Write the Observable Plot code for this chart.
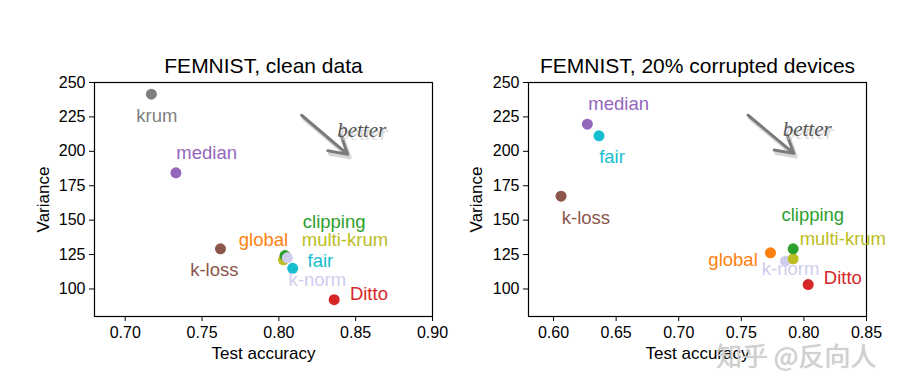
<!DOCTYPE html>
<html>
<head>
<meta charset="utf-8">
<script src="https://cdn.jsdelivr.net/npm/d3@7"></script>
<script src="https://cdn.jsdelivr.net/npm/@observablehq/plot@0.6"></script>
<style>
  html, body { margin: 0; padding: 0; background: #fff; }
  #wrap { position: relative; width: 909px; height: 392px; overflow: hidden; font-family: "Liberation Sans", Arial, sans-serif; }
  #wrap svg { position: absolute; top: 0; }
  #wm { position: absolute; left: 716px; top: 337px; font-family: "Noto Sans CJK SC", sans-serif; font-size: 26px; line-height: 36px; color: rgba(212,212,212,0.85); white-space: nowrap; text-shadow: 0 0 1px rgba(140,140,140,0.6); }
</style>
</head>
<body>
<div id="wrap"><div id="wm">知乎 @反向人</div></div>
<script>
const methods = ["global", "krum", "median", "k-loss", "k-norm", "multi-krum", "clipping", "fair", "Ditto"];
const colors  = ["#ff7f0e", "#7f7f7f", "#9467bd", "#8c564b", "#cfcdee", "#bcbd22", "#2ca02c", "#17becf", "#d62728"];

// Panel 1: FEMNIST, clean data
const cleanAcc    = [0.805, 0.717, 0.733, 0.762, 0.8055, 0.803, 0.804, 0.809, 0.836];
const cleanVar    = [123.0, 241.5, 184.4, 129.2, 122.6, 121.2, 124.3, 115.0, 92.2];
const cleanLabelX = [0.790, 0.7206, 0.753, 0.758, 0.825, 0.843, 0.836, 0.827, 0.8586];
const cleanLabelY = [135.8, 225.7, 199.0, 113.9, 106.6, 135.8, 148.6, 120.2, 96.4];
const cleanOrder  = ["global", "krum", "median", "k-loss", "multi-krum", "clipping", "k-norm", "fair", "Ditto"];

// Panel 2: FEMNIST, 20% corrupted devices (krum off-chart)
const corrAcc    = [0.7733, null, 0.627, 0.606, 0.7853, 0.7914, 0.7914, 0.6363, 0.8034];
const corrVar    = [126.3, null, 219.7, 167.4, 120.2, 121.9, 129.2, 211.3, 103.2];
const corrLabelX = [0.7434, null, 0.652, 0.6259, 0.7893, 0.8311, 0.8071, 0.6467, 0.8311];
const corrLabelY = [120.7, null, 234.2, 151.8, 114.6, 136.5, 153.5, 196.0, 107.8];
const corrOrder  = ["global", "krum", "median", "k-loss", "k-norm", "multi-krum", "clipping", "fair", "Ditto"];

const titles = ["FEMNIST, clean data", "FEMNIST, 20% corrupted devices"];
const xDomains = [[0.68, 0.90], [0.58, 0.85]];
const xTicks = [[0.70, 0.75, 0.80, 0.85, 0.90], [0.60, 0.65, 0.70, 0.75, 0.80, 0.85]];
const yDomain = [80, 250];
const yTicks = [100, 125, 150, 175, 200, 225, 250];

// "better" arrow: [x1, y1, x2, y2] and label position per panel
const arrowClean = [0.8148, 226.2, 0.8448, 197.8];
const arrowCorr  = [0.7554, 226.2, 0.7919, 198.5];
const betterClean = [0.8539, 215.5];
const betterCorr  = [0.8026, 216.0];

function rows(acc, v, lx, ly, order) {
  const all = methods.map((m, i) => ({m, c: colors[i], x: acc[i], y: v[i], lx: lx[i], ly: ly[i]}))
    .filter(d => d.x != null);
  return order.map(o => all.find(d => d.m === o)).filter(Boolean);
}

function panel(idx, data, arrow, better, opts) {
  const arr = [{x1: arrow[0], y1: arrow[1], x2: arrow[2], y2: arrow[3]}];
  const bt = [{x: better[0], y: better[1], t: "better"}];
  return Plot.plot({
    width: opts.width, height: 392,
    marginLeft: opts.ml, marginRight: opts.mr, marginTop: 82, marginBottom: 76,
    style: {fontFamily: "Liberation Sans, Arial, sans-serif", fontSize: "16px", color: "#000", background: "transparent"},
    x: {domain: xDomains[idx]},
    y: {domain: yDomain},
    marks: [
      Plot.frame({stroke: "#000", strokeWidth: 1.2}),
      Plot.axisX({ticks: xTicks[idx], tickFormat: d3.format(".2f"), tickSize: 5, tickPadding: 5, fontSize: 16, label: null}),
      Plot.axisY({ticks: yTicks, tickSize: 5, tickPadding: 4, fontSize: 16, label: null}),
      Plot.text([titles[idx]], {frameAnchor: "top", lineAnchor: "middle", textAnchor: "middle", dy: -16, fontSize: 21, fill: "#000"}),
      Plot.text(["Test accuracy"], {frameAnchor: "bottom", lineAnchor: "middle", textAnchor: "middle", dy: 37, fontSize: 17, fill: "#000"}),
      Plot.text(["Variance"], {frameAnchor: "left", lineAnchor: "middle", textAnchor: "middle", dx: opts.ylabDx, rotate: -90, fontSize: 17, fill: "#000"}),
      // arrow shadow + arrow
      Plot.arrow(arr, {x1: "x1", y1: "y1", x2: "x2", y2: "y2", stroke: "#bbb", strokeWidth: 4, strokeOpacity: 0.6, headLength: 14, dx: 2, dy: 3}),
      Plot.arrow(arr, {x1: "x1", y1: "y1", x2: "x2", y2: "y2", stroke: "#7a7a7a", strokeWidth: 3, headLength: 14}),
      Plot.text(bt, {x: "x", y: "y", text: "t", fontFamily: "Liberation Serif, serif", fontStyle: "italic", fontSize: 21, fill: "#ccc", fillOpacity: 0.7, dx: 2, dy: 3}),
      Plot.text(bt, {x: "x", y: "y", text: "t", fontFamily: "Liberation Serif, serif", fontStyle: "italic", fontSize: 21, fill: "#555"}),
      Plot.dot(data, {x: "x", y: "y", r: 5.5, fill: "c", stroke: "none"}),
      Plot.text(data, {x: "lx", y: "ly", text: "m", fill: "c", fontSize: 18.5})
    ]
  });
}

const wrap = document.getElementById("wrap");
const p1 = panel(0, rows(cleanAcc, cleanVar, cleanLabelX, cleanLabelY, cleanOrder), arrowClean, betterClean,
  {width: 450, ml: 94, mr: 18, ylabDx: -51});
p1.style.left = "0px";
const p2 = panel(1, rows(corrAcc, corrVar, corrLabelX, corrLabelY, corrOrder), arrowCorr, betterCorr,
  {width: 459, ml: 78, mr: 43, ylabDx: -52});
p2.style.left = "450px";
wrap.insertBefore(p1, wrap.firstChild);
wrap.insertBefore(p2, document.getElementById("wm"));
</script>
</body>
</html>
